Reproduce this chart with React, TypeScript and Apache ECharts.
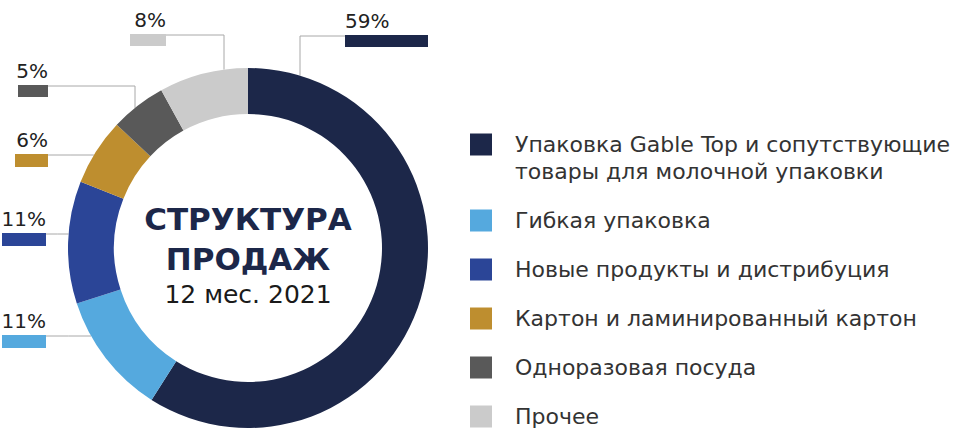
import React, { useEffect, useRef } from "react";
import * as echarts from "echarts";

const categories = [
  "Упаковка Gable Top и сопутствующие\nтовары для молочной упаковки",
  "Гибкая упаковка",
  "Новые продукты и дистрибуция",
  "Картон и ламинированный картон",
  "Одноразовая посуда",
  "Прочее",
];
const values = [59, 11, 11, 6, 5, 8];
const colors = ["#1c2749", "#55a9de", "#2b4597", "#be8e2f", "#595959", "#cbcbcb"];
const centerLines = ["СТРУКТУРА", "ПРОДАЖ", "12 мес. 2021"];

// label placement (layout, not data)
const CX = 248;
const CY = 248;
const R_IN = 134;
const R_OUT = 180;
type Place = {
  barLeft: number;
  barRight: number;
  barTop: number;
  barBottom: number;
  align: "left" | "right";
  dir: "v" | "h";
  lineX?: number;
};
const places: Place[] = [
  { barLeft: 345, barRight: 428, barTop: 35, barBottom: 47, align: "left", dir: "v", lineX: 300 },
  { barLeft: 2, barRight: 46, barTop: 335, barBottom: 348, align: "right", dir: "h" },
  { barLeft: 2, barRight: 46, barTop: 233, barBottom: 246, align: "right", dir: "h" },
  { barLeft: 15, barRight: 48, barTop: 154, barBottom: 167, align: "right", dir: "h" },
  { barLeft: 18, barRight: 48, barTop: 85, barBottom: 97, align: "right", dir: "v", lineX: 135 },
  { barLeft: 130, barRight: 166, barTop: 34, barBottom: 46, align: "right", dir: "v", lineX: 224 },
];

const FONT = "'DejaVu Sans', sans-serif";

export default function App() {
  const ref = useRef<HTMLDivElement>(null);
  useEffect(() => {
    if (!ref.current) return;
    const chart = echarts.init(ref.current, undefined, { renderer: "svg" });
    const data = categories.map((name, i) => {
      const p = places[i];
      return {
        name,
        value: values[i],
        itemStyle: { color: colors[i] },
        label: {
          formatter: "{p|{c}%}\n{b| }",
          rich: {
            p: { fontSize: 20, lineHeight: 28, color: "#222", fontFamily: FONT },
            b: {
              width: p.barRight - p.barLeft,
              height: p.barBottom - p.barTop,
              lineHeight: p.barBottom - p.barTop,
              backgroundColor: colors[i],
            },
          },
        },
      };
    });
    const option: any = {
      animation: false,
      legend: {
        orient: "vertical",
        left: 470,
        top: 104,
        padding: 0,
        itemWidth: 22,
        itemHeight: 22,
        itemGap: 22,
        icon: "rect",
        selectedMode: false,
        data: categories,
        formatter: (name: string) => (name.indexOf("\n") >= 0 ? "\n" + name : name),
        textStyle: {
          fontSize: 22,
          lineHeight: 27,
          color: "#333333",
          fontFamily: FONT,
          padding: [0, 0, 0, 18],
        },
      },
      graphic: [
        {
          type: "text",
          x: CX,
          y: 219,
          style: {
            text: centerLines[0],
            align: "center",
            verticalAlign: "middle",
            fill: "#1c2749",
            font: `bold 31px ${FONT}`,
          },
        },
        {
          type: "text",
          x: CX,
          y: 259,
          style: {
            text: centerLines[1],
            align: "center",
            verticalAlign: "middle",
            fill: "#1c2749",
            font: `bold 31px ${FONT}`,
          },
        },
        {
          type: "text",
          x: CX,
          y: 294,
          style: {
            text: centerLines[2],
            align: "center",
            verticalAlign: "middle",
            fill: "#1a1a1a",
            font: `25px ${FONT}`,
          },
        },
      ],
      series: [
        {
          type: "pie",
          center: [CX, CY],
          radius: [R_IN, R_OUT],
          startAngle: 90,
          clockwise: true,
          silent: true,
          avoidLabelOverlap: false,
          emphasis: { disabled: true },
          label: { show: true, position: "outside" },
          labelLine: { show: true, smooth: false, lineStyle: { color: "#a8a8a8", width: 1 } },
          labelLayout: (params: any) => {
            const p = places[params.dataIndex];
            const lineY = p.barTop + 1;
            const edge = p.align === "left" ? p.barLeft : p.barRight;
            let pts: number[][];
            if (p.dir === "v") {
              const x = p.lineX as number;
              const ry = CY - Math.sqrt(R_OUT * R_OUT - (x - CX) * (x - CX));
              pts = [[x, ry], [x, lineY], [edge, lineY]];
            } else {
              const rx = CX - Math.sqrt(R_OUT * R_OUT - (lineY - CY) * (lineY - CY));
              pts = [[rx, lineY], [(rx + edge) / 2, lineY], [edge, lineY]];
            }
            return {
              x: edge,
              y: p.barBottom,
              align: p.align,
              verticalAlign: "bottom",
              labelLinePoints: pts,
            };
          },
          data,
        },
      ],
    };
    chart.setOption(option);
    return () => chart.dispose();
  }, []);
  return (
    <div
      ref={ref}
      style={{ position: "fixed", left: 0, top: 0, width: 977, height: 437, background: "#fff" }}
    />
  );
}
